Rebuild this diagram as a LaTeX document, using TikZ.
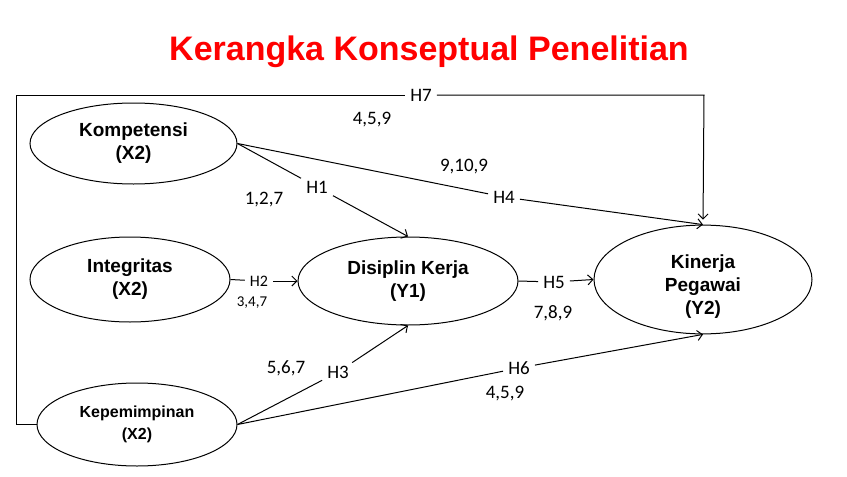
\documentclass[tikz,border=0pt]{standalone}
\usepackage{fontspec}
\setmainfont{Liberation Sans}
\newfontfamily\calfont{Carlito}
\usetikzlibrary{shapes.geometric,arrows.meta}
\begin{document}
\begin{tikzpicture}[x=1pt,y=-1pt,
  var/.style={draw, ellipse, line width=1pt, inner sep=0pt, align=center,
    font=\fontsize{19}{23}\selectfont\bfseries},
  hyp/.style={inner xsep=5pt, inner ysep=3pt, font=\calfont\fontsize{19}{20}\selectfont},
  hyps/.style={hyp, font=\calfont\fontsize{16}{18}\selectfont},
  num/.style={inner sep=0pt, font=\calfont\fontsize{19}{20}\selectfont},
  nums/.style={num, font=\calfont\fontsize{15}{17}\selectfont},
  link/.style={line width=1pt},
  arr/.style={link, -{Straight Barb[length=5pt,width=10pt]}}]
\useasboundingbox (0,0) rectangle (847,477);

\node[anchor=base, text=red, font=\fontsize{34}{40}\selectfont\bfseries] (title) at (429,60) {Kerangka Konseptual Penelitian};

\node[var, minimum width=207pt, minimum height=81pt] (komp) at (133.5,143.5) {Kompetensi\\(X2)};
\node[var, minimum width=200pt, minimum height=85pt] (integ) at (130,279.5) {Integritas\\(X2)};
\node[var, minimum width=220pt, minimum height=88pt] (disip) at (408,281) {Disiplin Kerja\\(Y1)};
\node[var, minimum width=218pt, minimum height=95pt] (kiner) at (703,279.5) {\rule{0pt}{27pt}Kinerja\\Pegawai\\(Y2)};
\node[var, font=\fontsize{16}{22}\selectfont\bfseries, minimum width=200pt, minimum height=83pt] (kepem) at (137,424.5) {Kepemimpinan\\(X2)};

\node[hyp] (h1) at (317,187) {H1};
\node[hyps] (h2) at (259,281) {H2};
\node[hyp] (h3) at (338,372) {H3};
\node[hyp] (h4) at (504,197) {H4};
\node[hyp] (h5) at (554,282) {H5};
\node[hyp] (h6) at (519,368) {H6};
\node[hyp] (h7) at (421,95) {H7};

\node[num] (n7) at (372,120) {4,5,9};
\node[num] (n1) at (264,200) {1,2,7};
\node[num] (n4) at (464,167) {9,10,9};
\node[nums] (n2) at (252,303) {3,4,7};
\node[num] (n5) at (553,313) {7,8,9};
\node[num] (n3) at (286,368) {5,6,7};
\node[num] (n6) at (505,394) {4,5,9};

\coordinate (tl) at (16,95);
\coordinate (tr) at (704,95);

\draw[link] (komp.east) -- (h1);
\draw[arr] (h1) -- (disip.north);
\draw[link] (komp.east) -- (h4);
\draw[arr] (h4) -- (kiner.north);
\draw[link] (integ.east) -- (h2);
\draw[arr] (h2) -- (disip.west);
\draw[link] (disip.east) -- (h5);
\draw[arr] (h5) -- (kiner.west);
\draw[link] (kepem.east) -- (h3);
\draw[arr] (h3) -- (disip.south);
\draw[link] (kepem.east) -- (h6);
\draw[arr] (h6) -- (kiner.south);
\draw[link] (kepem.west) -| (tl) -- (h7);
\draw[arr, shorten >=5pt] (h7) -- (tr) -- (kiner.north);
\end{tikzpicture}
\end{document}
